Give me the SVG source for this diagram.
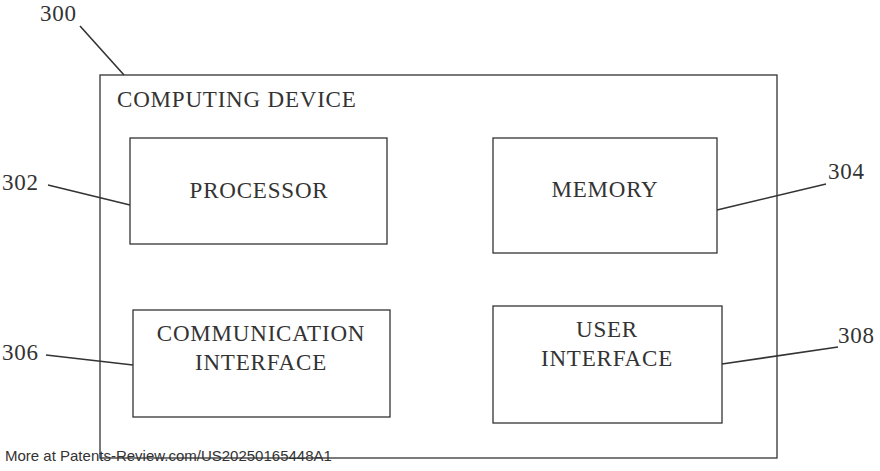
<svg xmlns="http://www.w3.org/2000/svg" width="880" height="471" viewBox="0 0 880 471">
<style>
.b{fill:#fff;stroke:#333;stroke-width:1.3}
.t{font-family:"Liberation Serif",serif;font-size:23px;letter-spacing:0.8px;fill:#333}
.l{stroke:#333;stroke-width:1.6;fill:none}
</style>
<rect width="880" height="471" fill="#fff"/>
<g id="device"><rect class="b" x="100" y="75" width="677" height="383"/><text class="t" x="117" y="107">COMPUTING DEVICE</text></g>
<g id="processor"><rect class="b" x="130" y="138" width="257" height="106"/><text class="t" x="259" y="198" text-anchor="middle">PROCESSOR</text></g>
<g id="memory"><rect class="b" x="493" y="138" width="224" height="115"/><text class="t" x="605" y="197" text-anchor="middle">MEMORY</text></g>
<g id="comm"><rect class="b" x="133" y="310" width="257" height="107"/><text class="t" x="261" y="341" text-anchor="middle">COMMUNICATION</text><text class="t" x="261" y="370" text-anchor="middle">INTERFACE</text></g>
<g id="ui"><rect class="b" x="493" y="306" width="229" height="117"/><text class="t" x="607" y="337" text-anchor="middle">USER</text><text class="t" x="607" y="366" text-anchor="middle">INTERFACE</text></g>
<g id="labels" class="t">
<text x="40" y="21">300</text><text x="2" y="190">302</text><text x="828" y="179">304</text><text x="2" y="360">306</text><text x="838" y="343">308</text>
</g>
<g id="connectors">
<path class="l" d="M80 26 L124 75"/><path class="l" d="M48 185 L130 205"/><path class="l" d="M826 184 L717 210"/><path class="l" d="M46 355 L133 365"/><path class="l" d="M838 347 L722 364"/>
</g>
<text x="5" y="461" font-family="Liberation Sans,sans-serif" font-size="15" fill="#333">More at Patents-Review.com/US20250165448A1</text>
</svg>
